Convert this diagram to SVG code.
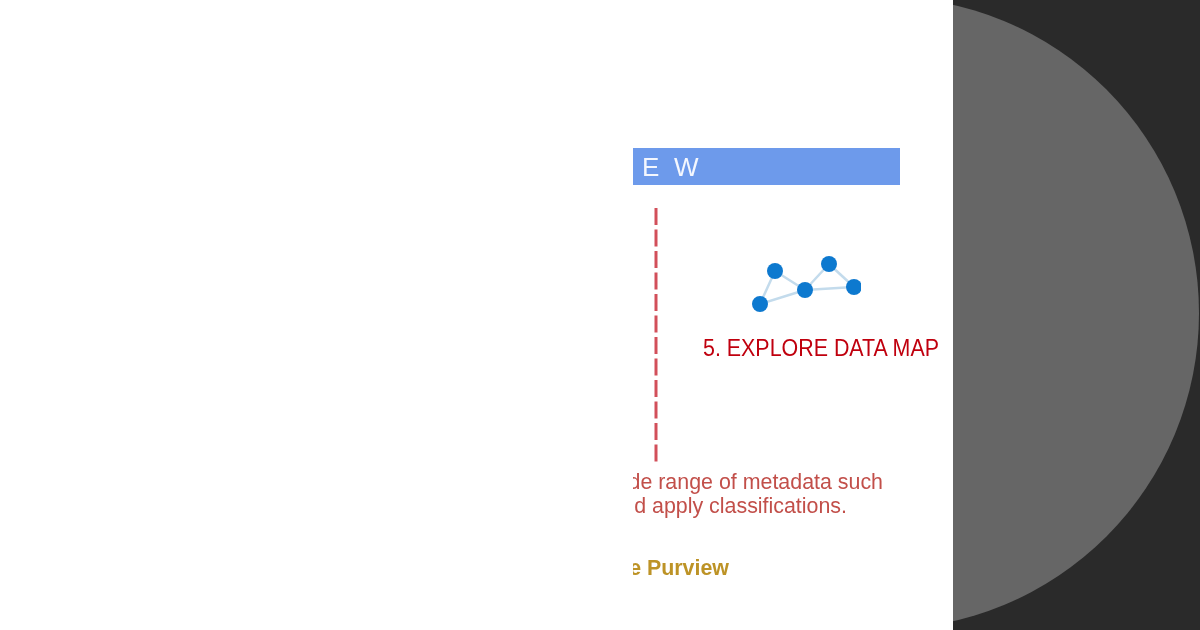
<svg xmlns="http://www.w3.org/2000/svg" width="1200" height="630" viewBox="0 0 1200 630">
<defs>
<style>
text{font-family:"Liberation Sans",Arial,sans-serif}
.link{stroke:#c3dbec;stroke-width:2.5;fill:none}
.dot{fill:#0f79cf}
.body{font-size:21.4px;fill:#c24f4a}
</style>
<filter id="soft" filterUnits="userSpaceOnUse" x="600" y="130" width="353" height="470"><feGaussianBlur stdDeviation="0.4"/></filter>
<clipPath id="cut"><rect x="633" y="0" width="320" height="630"/></clipPath>
<clipPath id="icon"><rect x="740" y="245" width="121" height="75"/></clipPath>
</defs>
<rect width="1200" height="630" fill="#2a2a2a"/>
<circle id="disc" cx="883" cy="313" r="316" fill="#666666"/>
<rect id="panel" width="953" height="630" fill="#ffffff"/>
<g id="header">
<rect x="633" y="148" width="267" height="37" fill="#6d9aeb"/>
<text x="642" y="176" font-size="26" fill="#f4f7fe" filter="url(#soft)">E</text>
<text x="674" y="176" font-size="26" fill="#f4f7fe" filter="url(#soft)">W</text>
</g>
<line id="divider" x1="656" y1="208" x2="656" y2="462" stroke="#d2505a" stroke-width="3" stroke-dasharray="17 4.5" filter="url(#soft)"/>
<g id="connectors" clip-path="url(#icon)">
<g filter="url(#soft)">
<line class="link" x1="760" y1="304" x2="775" y2="271"/>
<line class="link" x1="760" y1="304" x2="805" y2="290"/>
<line class="link" x1="775" y1="271" x2="805" y2="290"/>
<line class="link" x1="805" y1="290" x2="829" y2="264"/>
<line class="link" x1="805" y1="290" x2="854" y2="287"/>
<line class="link" x1="829" y1="264" x2="854" y2="287"/>
</g>
</g>
<g id="data-map-icon" clip-path="url(#icon)">
<g filter="url(#soft)">
<circle class="dot" cx="760" cy="304" r="8"/>
<circle class="dot" cx="775" cy="271" r="8"/>
<circle class="dot" cx="805" cy="290" r="8"/>
<circle class="dot" cx="829" cy="264" r="8"/>
<circle class="dot" cx="854" cy="287" r="8"/>
</g>
</g>
<text id="step5" x="703" y="356" font-size="23" fill="#c00010" textLength="236" lengthAdjust="spacingAndGlyphs" filter="url(#soft)">5. EXPLORE DATA MAP</text>
<g id="copy" clip-path="url(#cut)">
<g filter="url(#soft)">
<text class="body" x="883" y="489" text-anchor="end">de range of metadata such</text>
<text class="body" x="847" y="513" text-anchor="end">d apply classifications.</text>
<text x="729" y="575" text-anchor="end" font-size="21.4" font-weight="bold" fill="#bd9326">e Purview</text>
</g>
</g>
</svg>
